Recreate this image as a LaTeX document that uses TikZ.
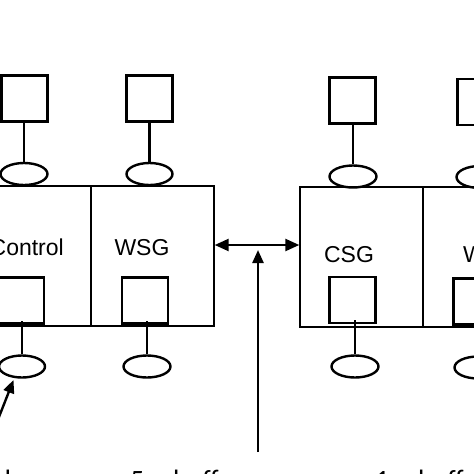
\documentclass[tikz,border=0pt]{standalone}
\usepackage{fontspec}
\setmainfont{Liberation Sans}
\newfontfamily\labfont{Carlito}
\usetikzlibrary{arrows.meta,calc,shapes.geometric}
\begin{document}
\begin{tikzpicture}[x=1pt,y=-1pt,
  blockbox/.style={draw,line width=1.4pt,minimum width=123pt,minimum height=140pt,inner sep=0pt},
  sqbox/.style={draw,line width=2.4pt,minimum width=46pt,minimum height=46pt,inner sep=0pt},
  elbox/.style={draw,ellipse,line width=2.4pt,minimum width=46pt,minimum height=22pt,inner sep=0pt},
  stem/.style={line width=2.4pt},
  arr/.style={line width=2.4pt},
  blabel/.style={font=\fontsize{23}{23}\selectfont,inner sep=0pt},
  zlabel/.style={font=\labfont\fontsize{28}{28}\selectfont,inner sep=0pt}]
\useasboundingbox (0,0) rectangle (474,474);
\clip (0,0) rectangle (474,474);
% blocks
\node[blockbox,minimum width=131pt] (ctrlbox) at (25.5,256) {};
\node[blockbox] (wsgbox) at (152.5,256) {};
\node[blockbox] (csgbox) at (361.5,257) {};
\node[blockbox,minimum width=100pt] (wbox) at (473,257) {};
% labels
\node[blabel,anchor=base east] (tctrl) at (64,255) {Control};
\node[blabel,anchor=base] (twsg) at (142,255) {WSG};
\node[blabel,anchor=base] (tcsg) at (349,262) {CSG};
\node[blabel,anchor=base west] (tw) at (463,262) {W};
% top squares and ellipses
\node[sqbox] (sqCt) at (24.5,98.5) {};
\node[sqbox] (sqWt) at (149.5,98.5) {};
\node[sqbox] (sqCSt) at (352.5,100.5) {};
\node[sqbox] (sqXt) at (480.5,102) {};
\node[elbox,minimum width=47pt] (elCt) at (24,174) {};
\node[elbox] (elWt) at (149.5,174) {};
\node[elbox,minimum width=47pt] (elCSt) at (353,176.5) {};
\node[elbox,minimum width=47pt] (elXt) at (480,177) {};
\draw[stem] (elCt.north) -- (elCt.north |- sqCt.south);
\draw[stem] (elWt.north) -- (elWt.north |- sqWt.south);
\draw[stem] (elCSt.north) -- (elCSt.north |- sqCSt.south);
% bottom squares and ellipses
\node[sqbox] (sqCb) at (21,300.5) {};
\node[sqbox] (sqWb) at (145,300.5) {};
\node[sqbox] (sqCSb) at (352.5,300) {};
\node[sqbox] (sqXb) at (476.5,301.5) {};
\node[elbox] (elCb) at (22,366.5) {};
\node[elbox,minimum width=47pt] (elWb) at (147,366.5) {};
\node[elbox,minimum width=47pt] (elCSb) at (355,366.5) {};
\node[elbox,minimum width=47pt] (elXb) at (478,367.5) {};
\draw[stem] (elCb.north) -- ($(elCb.north |- sqCb.south)+(0,-4)$);
\draw[stem] (elWb.north) -- ($(elWb.north |- sqWb.south)+(0,-4)$);
\draw[stem] (elCSb.north) -- ($(elCSb.north |- sqCSb.south)+(0,-4)$);
% arrows
\draw[arr,{Triangle[length=14pt,width=12pt]}-{Triangle[length=14pt,width=12pt]}] ([yshift=11pt]wsgbox.east) -- ([yshift=12pt]csgbox.west);
\coordinate (bzfoot) at (258,452);
\coordinate (bztip) at (258,250);
\draw[arr,-{Triangle[length=13pt,width=11pt]}] (bzfoot) -- (bztip);
\coordinate (lafoot) at (-3,422);
\coordinate (latip) at (13.5,380);
\draw[arr,-{Triangle[length=13pt,width=11pt]}] (lafoot) -- (latip);
% bottom labels (cut off)
\node[zlabel,anchor=base east] (lder) at (35,489) {der};
\node[zlabel,anchor=base west] (l5m) at (130,489) {5m buffer zone};
\node[zlabel,anchor=base west] (l1m) at (375,489) {1m buffer};
\end{tikzpicture}
\end{document}
